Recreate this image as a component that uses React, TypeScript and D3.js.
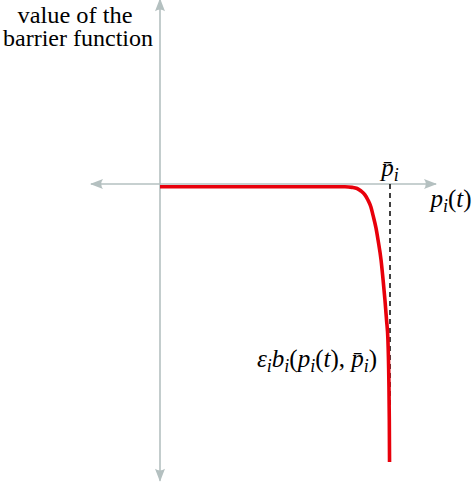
import * as d3 from 'd3';

const W = 474;
const H = 483;

// barrier curve (p normalised so that p-bar = 1)
const curveP = [0, 0.804, 0.835, 0.857, 0.874, 0.891, 0.904, 0.917, 0.926, 0.939, 0.948, 0.961, 0.97, 0.978, 0.985, 0.991, 0.995, 0.997, 0.998];
const curveB = [-0.1, -0.1, -0.12, -0.16, -0.25, -0.39, -0.57, -0.82, -1.11, -1.57, -2.0, -2.71, -3.43, -4.14, -4.86, -5.57, -7.0, -8.43, -9.93];

const pBar = 1;
const xAxisExtent = [-0.3, 1.2];
const yAxisExtent = [6.6, -10.6];
const dashEnd = -9.8;

const GRAY = '#b4c0c0';
const RED = '#e8000b';
const SERIF = 'Liberation Serif';

type Part = { t: string; it?: boolean; sub?: boolean };

// math text with italic pieces and lowered subscripts
function MathText({ parts, x, y, size }: { parts: Part[]; x: number; y: number; size: number }) {
  let down = false;
  return (
    <text x={x} y={y} textAnchor="middle" fontFamily={SERIF} fontSize={size}>
      {parts.map((p, i) => {
        let dy: number | undefined;
        if (p.sub && !down) {
          dy = size * 0.2;
          down = true;
        } else if (!p.sub && down) {
          dy = -size * 0.2;
          down = false;
        }
        return (
          <tspan
            key={i}
            dy={dy}
            fontStyle={p.it ? 'italic' : undefined}
            fontSize={p.sub ? size * 0.72 : undefined}
          >
            {p.t}
          </tspan>
        );
      })}
    </text>
  );
}

export default function App() {
  const x = d3.scaleLinear().domain([0, 1]).range([160, 390]);
  const y = d3.scaleLinear().domain([0, -10]).range([184, 464]);

  const pts = curveP.map((p, i) => [p, curveB[i]] as [number, number]);
  const line = d3
    .line<[number, number]>()
    .x((d) => x(d[0]))
    .y((d) => y(d[1]))
    .curve(d3.curveMonotoneX);

  return (
    <svg width={W} height={H} style={{ position: 'absolute', left: 0, top: 0, background: '#fff' }}>
      <defs>
        <marker
          id="arr"
          markerUnits="userSpaceOnUse"
          markerWidth={16}
          markerHeight={12}
          viewBox="-13 -6 16 12"
          refX={0}
          refY={0}
          orient="auto-start-reverse"
        >
          <path d="M1,0 L-12,-5 Q-8.5,0 -12,5 Z" fill={GRAY} />
        </marker>
      </defs>

      {/* axes */}
      <line
        x1={x(xAxisExtent[0])}
        x2={x(xAxisExtent[1])}
        y1={y(0)}
        y2={y(0)}
        stroke={GRAY}
        strokeWidth={1.6}
        markerStart="url(#arr)"
        markerEnd="url(#arr)"
      />
      <line
        x1={x(0)}
        x2={x(0)}
        y1={y(yAxisExtent[0])}
        y2={y(yAxisExtent[1])}
        stroke={GRAY}
        strokeWidth={1.6}
        markerStart="url(#arr)"
        markerEnd="url(#arr)"
      />

      {/* asymptote */}
      <line
        x1={x(pBar)}
        x2={x(pBar)}
        y1={y(0)}
        y2={y(dashEnd)}
        stroke="#111"
        strokeWidth={1.6}
        strokeDasharray="5,4"
      />

      {/* barrier curve */}
      <path d={line(pts) as string} fill="none" stroke={RED} strokeWidth={3.6} />

      {/* y axis title */}
      <text x={75} y={23} textAnchor="middle" fontFamily={SERIF} fontSize={23} textLength={115} lengthAdjust="spacingAndGlyphs">
        value of the
      </text>
      <text x={78} y={46} textAnchor="middle" fontFamily={SERIF} fontSize={23} textLength={150} lengthAdjust="spacingAndGlyphs">
        barrier function
      </text>

      <MathText parts={[{ t: 'p\u0304', it: true }, { t: 'i', it: true, sub: true }]} x={x(pBar)} y={176} size={25} />
      <MathText
        parts={[{ t: 'p', it: true }, { t: 'i', it: true, sub: true }, { t: '(' }, { t: 't', it: true }, { t: ')' }]}
        x={451}
        y={207}
        size={25}
      />
      <MathText
        parts={[
          { t: 'ε', it: true },
          { t: 'i', it: true, sub: true },
          { t: 'b', it: true },
          { t: 'i', it: true, sub: true },
          { t: '(' },
          { t: 'p', it: true },
          { t: 'i', it: true, sub: true },
          { t: '(' },
          { t: 't', it: true },
          { t: '), ' },
          { t: 'p\u0304', it: true },
          { t: 'i', it: true, sub: true },
          { t: ')' },
        ]}
        x={317}
        y={367}
        size={25}
      />
    </svg>
  );
}
